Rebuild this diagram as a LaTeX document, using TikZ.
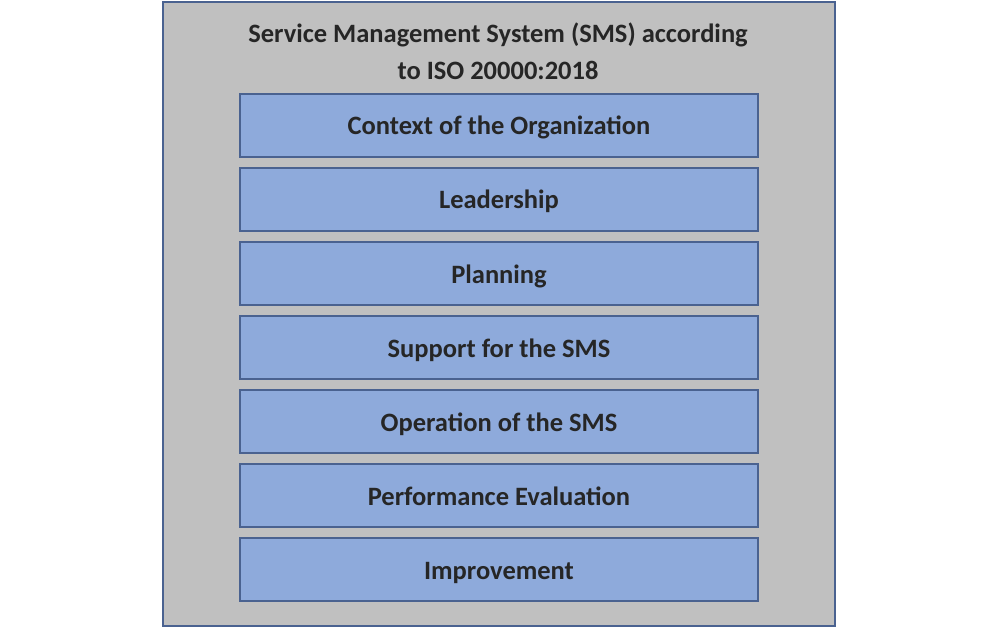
\documentclass[tikz,border=0pt]{standalone}
\usepackage{fontspec}
\setmainfont{Carlito}
\usepackage{xcolor}
\usetikzlibrary{positioning}
\definecolor{smsgray}{HTML}{C0C0C0}
\definecolor{smsblue}{HTML}{8EAADB}
\definecolor{smsline}{HTML}{4A6290}

\begin{document}
\begin{tikzpicture}
  [x=1pt,y=1pt,
    node distance=9.6pt,
    clause/.style={draw=smsline,line width=1.4pt,fill=smsblue,
      minimum width=518pt,minimum height=63pt,inner sep=0pt,
      text height=24pt,text depth=5pt,
      font=\fontsize{26.5}{30}\selectfont\bfseries,text=black!85}]
  \useasboundingbox (0,0) rectangle (1000,-628);
  \draw[smsline,line width=1.4pt,fill=smsgray] (163,-2) rectangle (835,-626);
  \node[align=center,font=\fontsize{26.5}{37}\selectfont\bfseries,text=black!85] (title) at (498,-51)
    {Service Management System (SMS) according\\to ISO 20000:2018};
  \node[clause] (context) at (499,-125.5) {Context of the Organization};
  \node[clause,below=of context] (leader) {Leadership};
  \node[clause,below=of leader] (plan) {Planning};
  \node[clause,below=of plan] (support) {Support for the SMS};
  \node[clause,below=of support] (oper) {Operation of the SMS};
  \node[clause,below=of oper] (perf) {Performance Evaluation};
  \node[clause,below=of perf] (improve) {Improvement};
\end{tikzpicture}
\end{document}
